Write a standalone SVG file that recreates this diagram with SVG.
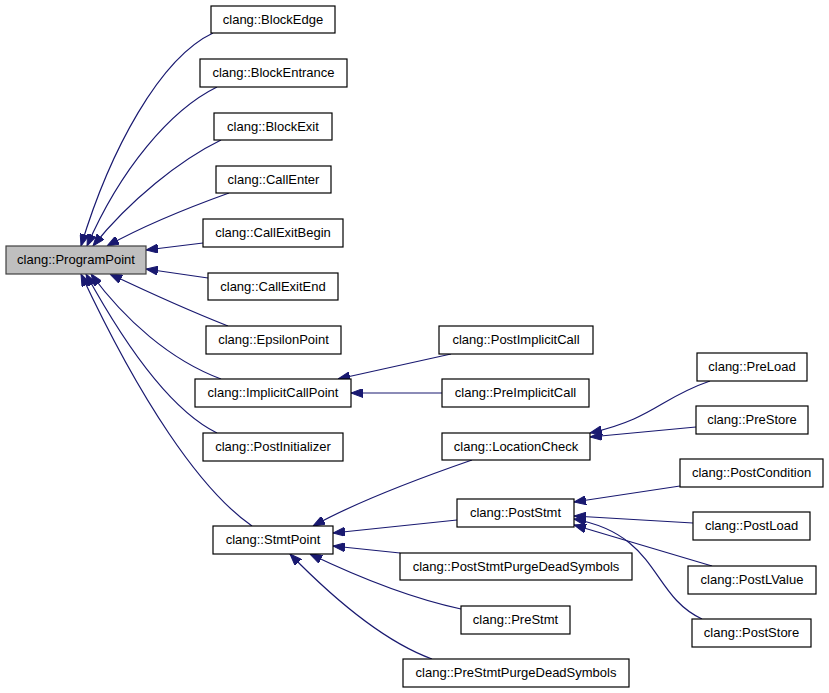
<svg xmlns="http://www.w3.org/2000/svg" width="829" height="693" viewBox="0 0 829 693">
<style>
.n rect{fill:#ffffff;stroke:#000000;stroke-width:1.2}
.n.cur rect{fill:#bfbfbf;stroke:#404040}
.n text{font-family:"Liberation Sans",Arial,sans-serif;font-size:13px;fill:#000000;text-anchor:middle}
.e path{fill:none;stroke:#191970;stroke-width:1.2;marker-end:url(#arr)}
</style>
<defs>
<marker id="arr" viewBox="0 0 12 9" refX="12" refY="4.5" markerWidth="12" markerHeight="9" markerUnits="userSpaceOnUse" orient="auto">
<path d="M0,0 L12,4.5 L0,9 Z" fill="#191970" stroke="#191970" stroke-width="1"/>
</marker>
</defs>
<rect width="829" height="693" fill="#ffffff"/>
<g id="edges" class="e">
<path d="M213,33 C160,58 110,150 81,246"/>
<path d="M217,87 C170,110 120,170 87,246"/>
<path d="M221,140 C180,160 130,200 93,246"/>
<path d="M229,193 C190,207 145,225 107,246"/>
<path d="M203,243 L146,250"/>
<path d="M208,278 L146,269"/>
<path d="M228,326 C190,311 150,293 110,274"/>
<path d="M221,379 C170,360 125,320 91,274"/>
<path d="M217,433 C170,410 125,345 86,274"/>
<path d="M252,526 C200,490 140,400 81,274"/>
<path d="M451,354 L338,379"/>
<path d="M442,393 L351,393"/>
<path d="M472,460 C420,478 360,500 313,526"/>
<path d="M457,520 L333,533"/>
<path d="M400,553 L333,546"/>
<path d="M461,609 C410,598 360,578 310,554"/>
<path d="M432,659 C380,640 330,595 290,554"/>
<path d="M710,381 C660,398 655,418 590,433"/>
<path d="M696,427 L590,437"/>
<path d="M680,486 L574,502"/>
<path d="M693,523 L574,516"/>
<path d="M712,566 L574,525"/>
<path d="M702,619 C650,595 660,535 574,519"/>
</g>
<g id="ProgramPoint" class="n cur"><rect x="6" y="246" width="140" height="28"/><text x="76" y="264">clang::ProgramPoint</text></g>
<g id="BlockEdge" class="n"><rect x="211" y="6" width="124" height="27"/><text x="273" y="24">clang::BlockEdge</text></g>
<g id="BlockEntrance" class="n"><rect x="200" y="59" width="147" height="28"/><text x="273.5" y="77">clang::BlockEntrance</text></g>
<g id="BlockExit" class="n"><rect x="214" y="113" width="118" height="27"/><text x="273" y="131">clang::BlockExit</text></g>
<g id="CallEnter" class="n"><rect x="216" y="166" width="115" height="27"/><text x="273.5" y="184">clang::CallEnter</text></g>
<g id="CallExitBegin" class="n"><rect x="203" y="219" width="140" height="28"/><text x="273" y="237">clang::CallExitBegin</text></g>
<g id="CallExitEnd" class="n"><rect x="208" y="273" width="130" height="27"/><text x="273" y="291">clang::CallExitEnd</text></g>
<g id="EpsilonPoint" class="n"><rect x="206" y="326" width="135" height="28"/><text x="273.5" y="344">clang::EpsilonPoint</text></g>
<g id="ImplicitCallPoint" class="n"><rect x="195" y="379" width="156" height="28"/><text x="273" y="397">clang::ImplicitCallPoint</text></g>
<g id="PostInitializer" class="n"><rect x="203" y="433" width="140" height="28"/><text x="273" y="451">clang::PostInitializer</text></g>
<g id="StmtPoint" class="n"><rect x="213" y="526" width="120" height="28"/><text x="273" y="544">clang::StmtPoint</text></g>
<g id="PostImplicitCall" class="n"><rect x="439" y="326" width="154" height="28"/><text x="516" y="344">clang::PostImplicitCall</text></g>
<g id="PreImplicitCall" class="n"><rect x="442" y="379" width="147" height="28"/><text x="515.5" y="397">clang::PreImplicitCall</text></g>
<g id="LocationCheck" class="n"><rect x="442" y="433" width="148" height="27"/><text x="516" y="451">clang::LocationCheck</text></g>
<g id="PreLoad" class="n"><rect x="697" y="353" width="110" height="28"/><text x="752" y="371">clang::PreLoad</text></g>
<g id="PreStore" class="n"><rect x="696" y="406" width="112" height="28"/><text x="752" y="424">clang::PreStore</text></g>
<g id="PostCondition" class="n"><rect x="680" y="459" width="143" height="28"/><text x="751.5" y="477">clang::PostCondition</text></g>
<g id="PostStmt" class="n"><rect x="457" y="499" width="117" height="28"/><text x="515.5" y="517">clang::PostStmt</text></g>
<g id="PostLoad" class="n"><rect x="693" y="512" width="117" height="28"/><text x="751.5" y="530">clang::PostLoad</text></g>
<g id="PostStmtPurgeDeadSymbols" class="n"><rect x="400" y="553" width="232" height="27"/><text x="516" y="571">clang::PostStmtPurgeDeadSymbols</text></g>
<g id="PostLValue" class="n"><rect x="688" y="566" width="128" height="28"/><text x="752" y="584">clang::PostLValue</text></g>
<g id="PreStmt" class="n"><rect x="461" y="606" width="109" height="28"/><text x="515.5" y="624">clang::PreStmt</text></g>
<g id="PostStore" class="n"><rect x="692" y="619" width="119" height="28"/><text x="751.5" y="637">clang::PostStore</text></g>
<g id="PreStmtPurgeDeadSymbols" class="n"><rect x="403" y="659" width="226" height="28"/><text x="516" y="677">clang::PreStmtPurgeDeadSymbols</text></g>
</svg>
